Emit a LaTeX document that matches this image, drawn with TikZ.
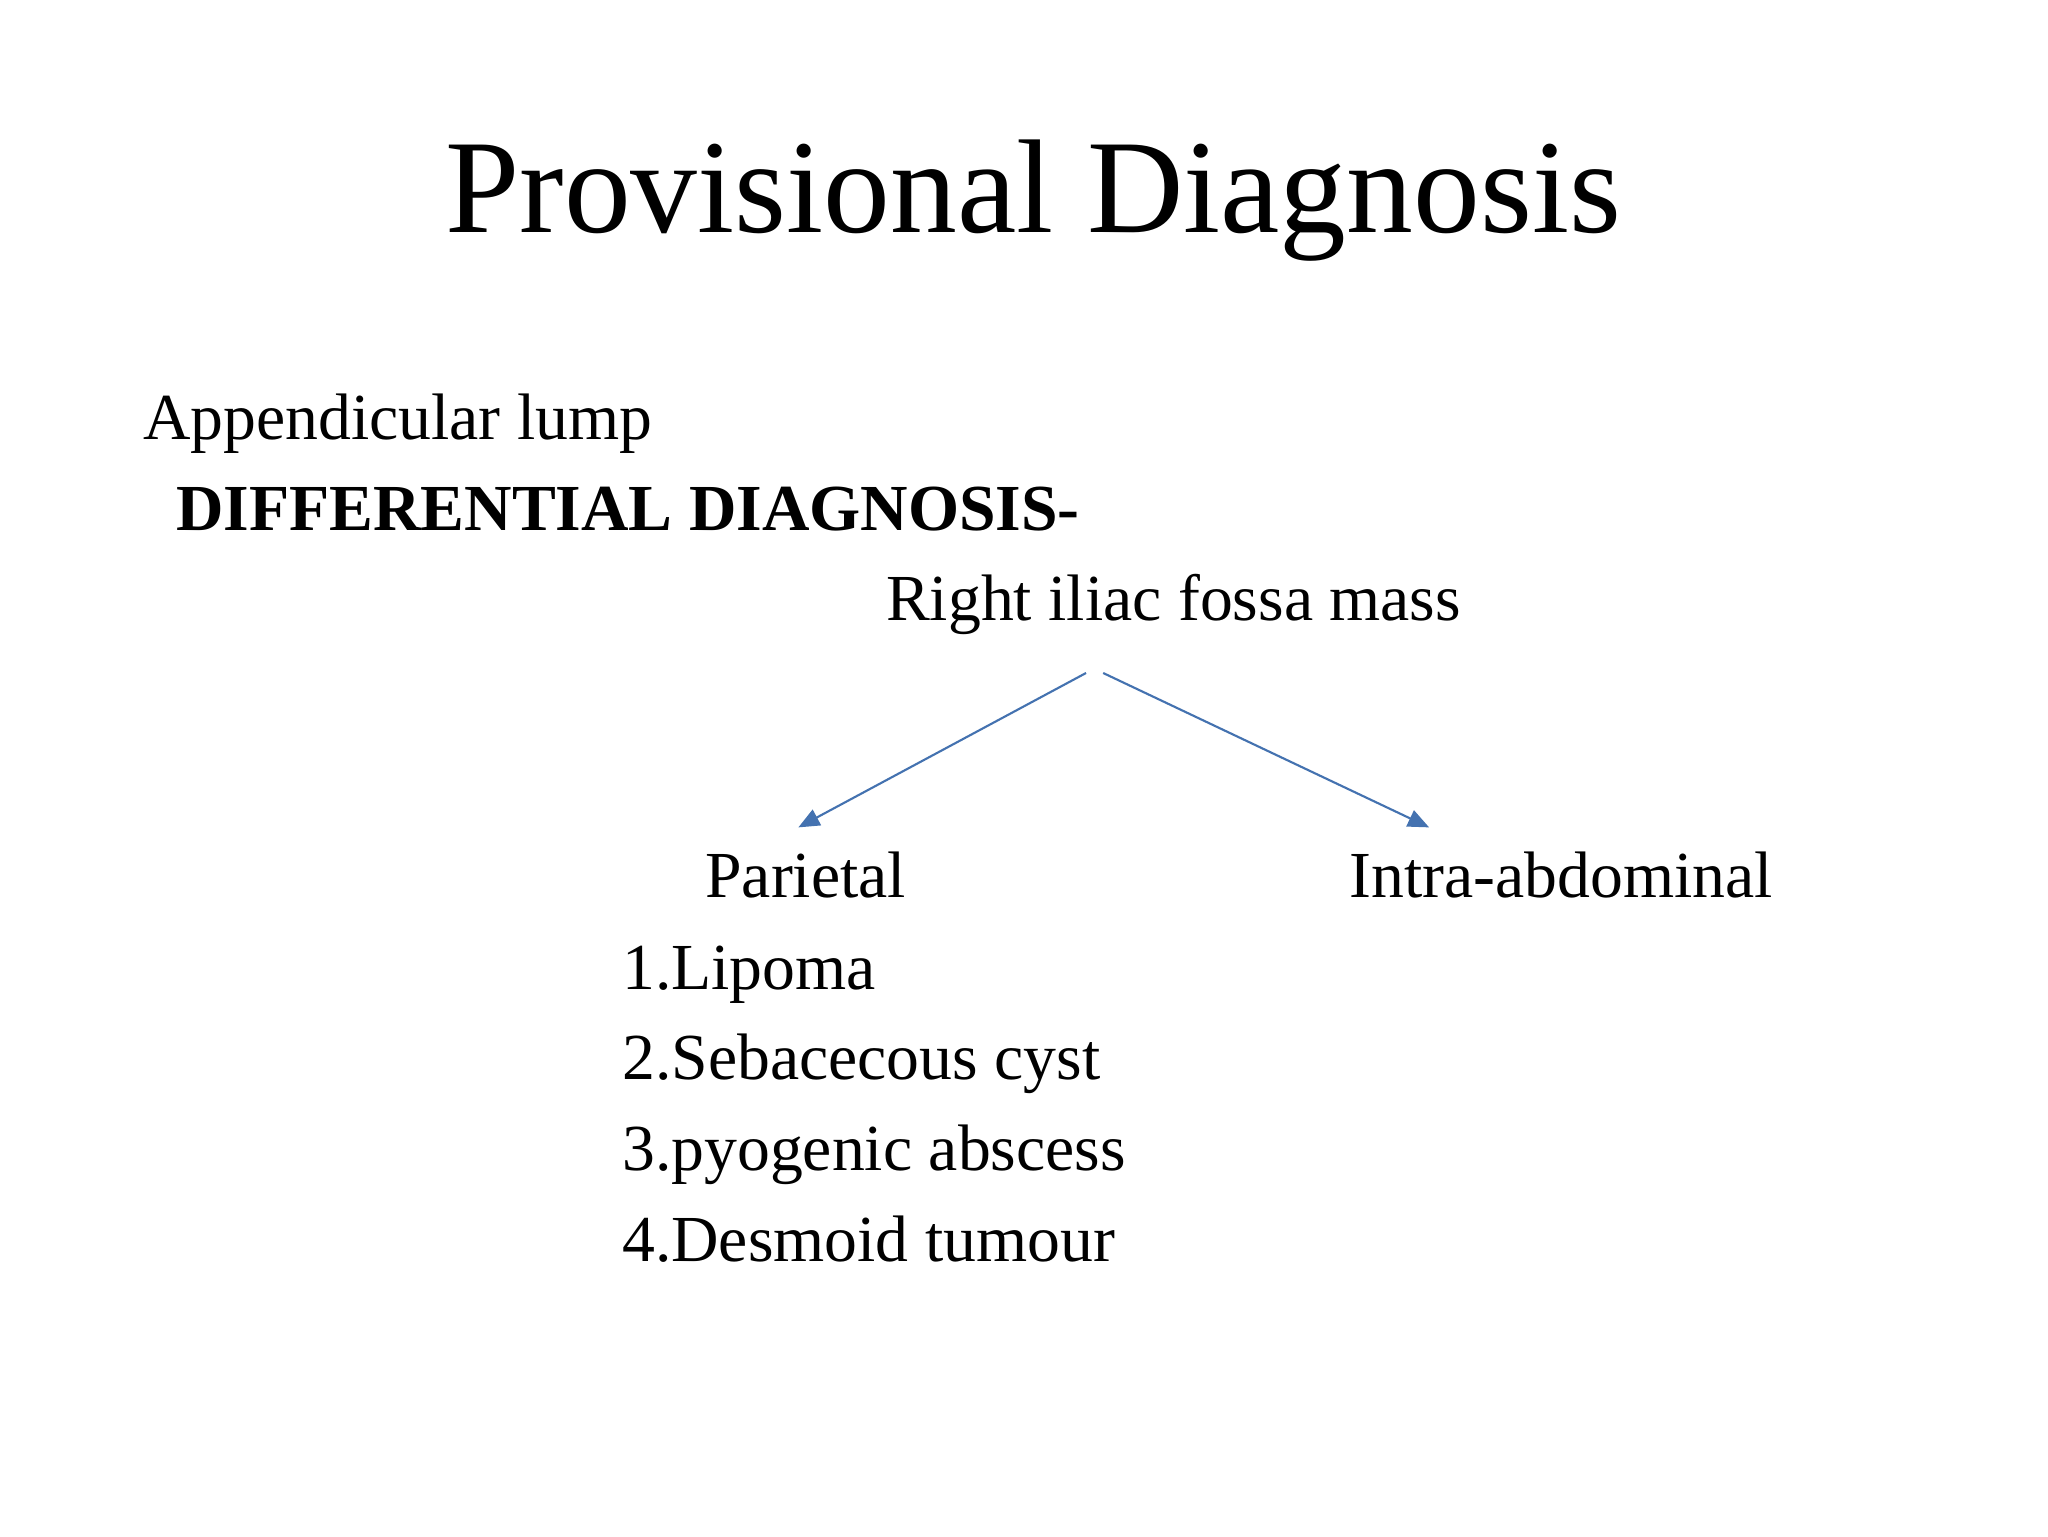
\documentclass[tikz,border=0pt]{standalone}
\usepackage{fontspec}
\setmainfont{Liberation Serif}
\usetikzlibrary{arrows.meta}
\begin{document}
\begin{tikzpicture}[x=0.013196cm,y=-0.013196cm,
  txt/.style={anchor=base west,inner sep=0pt,font=\fontsize{18.7pt}{22pt}\selectfont},
  arr/.style={draw={rgb,255:red,68;green,114;blue,176},line width=0.6pt,-{Triangle[length=6pt,width=5pt]}}]
\useasboundingbox[fill=white] (0,0) rectangle (1552,1164);
\node[inner sep=0pt,font=\fontsize{38pt}{44pt}\selectfont] (title) at (783,152) {Provisional Diagnosis};
\node[txt] (app) at (108,333) {Appendicular lump};
\node[txt,font=\fontsize{18.7pt}{22pt}\selectfont\bfseries] (dd) at (133,402) {DIFFERENTIAL DIAGNOSIS-};
\node[txt] (rif) at (671,470) {Right iliac fossa mass};
\node[txt] (par) at (534,680) {Parietal};
\node[txt] (intra) at (1022,680) {Intra-abdominal};
\node[txt] (l1) at (471,750) {1.Lipoma};
\node[txt] (l2) at (471,818) {2.Sebacecous cyst};
\node[txt] (l3) at (471,887) {3.pyogenic abscess};
\node[txt] (l4) at (471,956) {4.Desmoid tumour};
\coordinate (s1) at (823,510); \coordinate (e1) at (605,627);
\coordinate (s2) at (836,510); \coordinate (e2) at (1083,627);
\draw[arr] (s1) -- (e1);
\draw[arr] (s2) -- (e2);
\end{tikzpicture}
\end{document}
